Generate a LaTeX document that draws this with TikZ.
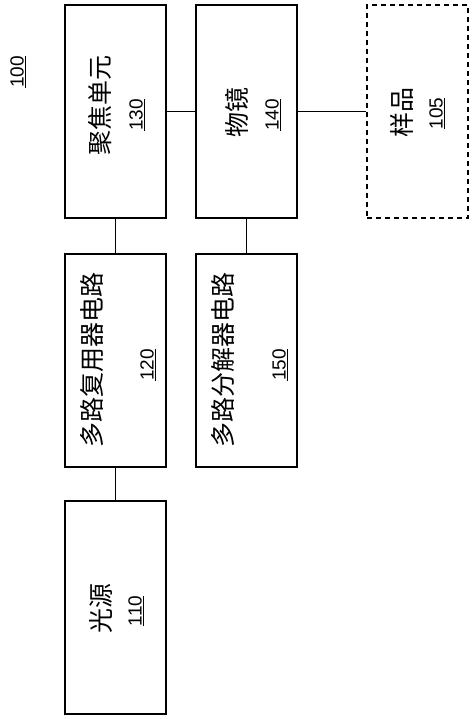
\documentclass[tikz,border=0pt]{standalone}
\usepackage{fontspec}
\setmainfont{Liberation Sans}
\newfontfamily\cjk{Noto Sans CJK SC}
\begin{document}
\begin{tikzpicture}[x=1pt,y=-1pt,
  box/.style={draw,line width=1.6pt,inner sep=0pt,minimum width=101pt,minimum height=213pt},
  dbox/.style={box,dash pattern=on 5pt off 4pt},
  conn/.style={draw,line width=0.8pt},
  cn/.style={rotate=90,inner sep=0pt,font=\cjk\fontsize{25}{25}\selectfont},
  num/.style={rotate=90,inner sep=0pt,font=\fontsize{19}{19}\selectfont}]
\useasboundingbox (0,0) rectangle (474,719);
\node[box] (b130) at (115.5,111.5) {};
\node[box] (b140) at (246.5,111.5) {};
\node[dbox] (b105) at (417.5,111.5) {};
\node[box] (b120) at (115.5,360.5) {};
\node[box] (b150) at (246.5,360.5) {};
\node[box] (b110) at (115.5,607.5) {};
\draw[conn] (b130.east) -- (b140.west);
\draw[conn] (b140.east) -- (b105.west);
\draw[conn] (b130.south) -- (b120.north);
\draw[conn] (b140.south) -- (b150.north);
\draw[conn] (b120.south) -- (b110.north);
\node[num] (t100) at (18,72) {\underline{100}};
\node[cn] (t130a) at (100,105.5) {聚焦单元};
\node[num] (t130b) at (137,115) {\underline{130}};
\node[cn] (t140a) at (237,113) {物镜};
\node[num] (t140b) at (273,115) {\underline{140}};
\node[cn] (t105a) at (402,113) {样品};
\node[num] (t105b) at (437,113.5) {\underline{105}};
\node[cn] (t120a) at (92,360) {多路复用器电路};
\node[num] (t120b) at (148,365) {\underline{120}};
\node[cn] (t150a) at (223,360) {多路分解器电路};
\node[num] (t150b) at (280,365) {\underline{150}};
\node[cn] (t110a) at (101,608) {光源};
\node[num] (t110b) at (136,611) {\underline{110}};
\end{tikzpicture}
\end{document}
